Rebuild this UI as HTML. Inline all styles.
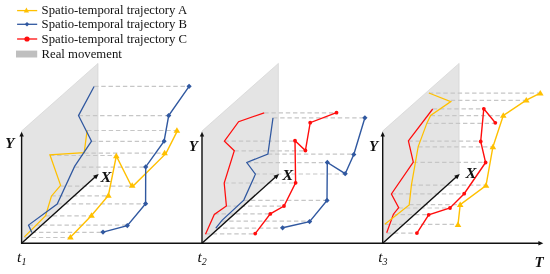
<!DOCTYPE html><html><head><meta charset="utf-8"><title>Spatio-temporal trajectories</title>
<style>html,body{margin:0;padding:0;background:#fff}svg{display:block}text{font-family:"Liberation Serif","Times New Roman",serif;fill:#111}</style></head><body>
<svg width="550" height="274" viewBox="0 0 550 274">
<rect width="550" height="274" fill="#fff"/>
<polygon points="21.6,243.2 21.6,131 98.0,63.4 98.0,174.2" fill="#D9D9D9" fill-opacity="0.72" stroke="#CFCFCF" stroke-width="0.6"/>
<polygon points="202.0,243.2 202.0,131 278.4,63.4 278.4,174.2" fill="#D9D9D9" fill-opacity="0.72" stroke="#CFCFCF" stroke-width="0.6"/>
<polygon points="382.7,243.2 382.7,131 459.1,63.4 459.1,174.2" fill="#D9D9D9" fill-opacity="0.72" stroke="#CFCFCF" stroke-width="0.6"/>
<g stroke="#C6C6C6" stroke-width="1.2" stroke-dasharray="4.4 2.8" fill="none">
<line x1="94.1" y1="86.4" x2="189.1" y2="86.4"/>
<line x1="78.5" y1="115.6" x2="168.7" y2="115.6"/>
<line x1="87.1" y1="130.5" x2="176.9" y2="130.5"/>
<line x1="91.5" y1="141.3" x2="164.1" y2="141.3"/>
<line x1="84.2" y1="153.1" x2="164.6" y2="153.1"/>
<line x1="49.9" y1="155.5" x2="116.3" y2="155.5"/>
<line x1="74.6" y1="167.1" x2="146.2" y2="167.1"/>
<line x1="60.6" y1="186.2" x2="132.2" y2="186.2"/>
<line x1="51.4" y1="195.8" x2="108.4" y2="195.8"/>
<line x1="57.2" y1="203.8" x2="146.2" y2="203.8"/>
<line x1="45.6" y1="215.9" x2="91.5" y2="215.9"/>
<line x1="28.5" y1="225.2" x2="127.3" y2="225.2"/>
<line x1="31.8" y1="232.4" x2="103.0" y2="232.4"/>
<line x1="24.4" y1="237.5" x2="70.3" y2="237.5"/>
<line x1="264.2" y1="112.8" x2="336.5" y2="112.8"/>
<line x1="273.0" y1="117.9" x2="364.9" y2="117.9"/>
<line x1="224.4" y1="141.1" x2="295.0" y2="141.1"/>
<line x1="234.3" y1="150.8" x2="305.4" y2="150.8"/>
<line x1="267.9" y1="154.2" x2="353.8" y2="154.2"/>
<line x1="246.8" y1="162.6" x2="327.3" y2="162.6"/>
<line x1="255.4" y1="174.0" x2="345.2" y2="174.0"/>
<line x1="224.2" y1="183.0" x2="295.6" y2="183.0"/>
<line x1="243.8" y1="200.3" x2="327.0" y2="200.3"/>
<line x1="226.4" y1="206.1" x2="284.0" y2="206.1"/>
<line x1="214.3" y1="213.9" x2="270.3" y2="213.9"/>
<line x1="222.0" y1="221.2" x2="309.6" y2="221.2"/>
<line x1="215.8" y1="228.1" x2="282.6" y2="228.1"/>
<line x1="205.5" y1="233.8" x2="255.2" y2="233.8"/>
<line x1="428.9" y1="93.1" x2="540.3" y2="93.1"/>
<line x1="450.8" y1="100.4" x2="526.3" y2="100.4"/>
<line x1="432.7" y1="108.8" x2="483.8" y2="108.8"/>
<line x1="430.6" y1="115.6" x2="503.3" y2="115.6"/>
<line x1="427.0" y1="123.3" x2="495.3" y2="123.3"/>
<line x1="408.4" y1="141.2" x2="480.7" y2="141.2"/>
<line x1="418.2" y1="146.8" x2="492.9" y2="146.8"/>
<line x1="413.3" y1="162.4" x2="485.6" y2="162.4"/>
<line x1="411.4" y1="185.2" x2="486.0" y2="185.2"/>
<line x1="391.4" y1="193.9" x2="464.2" y2="193.9"/>
<line x1="409.2" y1="204.6" x2="460.2" y2="204.6"/>
<line x1="398.7" y1="208.0" x2="450.0" y2="208.0"/>
<line x1="393.4" y1="214.6" x2="428.7" y2="214.6"/>
<line x1="384.8" y1="224.3" x2="458.0" y2="224.3"/>
<line x1="386.7" y1="233.2" x2="416.9" y2="233.2"/>
</g>
<polyline points="24.4,236.9 45.6,215.6 51.4,196.2 60.6,185.4 49.9,154.8 84.2,152.6 87.1,130.5" fill="none" stroke="#FFC000" stroke-width="1.25" stroke-linejoin="miter"/>
<polyline points="31.8,232.6 28.5,225.1 57.2,204.1 74.6,166.4 91.5,141.2 78.5,115.6 94.1,86.5" fill="none" stroke="#3058A0" stroke-width="1.25" stroke-linejoin="miter"/>
<polyline points="205.5,234.2 214.3,214.4 226.4,206.0 224.2,183.1 234.3,150.8 224.4,141.1 238.6,121.7 264.2,112.8" fill="none" stroke="#FF0D0D" stroke-width="1.25" stroke-linejoin="miter"/>
<polyline points="215.8,228.1 222.0,220.4 243.8,200.1 255.4,174.2 246.8,162.5 267.9,154.0 273.0,117.8" fill="none" stroke="#3058A0" stroke-width="1.25" stroke-linejoin="miter"/>
<polyline points="386.7,232.8 393.4,214.2 398.7,207.7 391.4,194.0 413.3,162.2 408.4,140.9 432.7,109.0" fill="none" stroke="#FF0D0D" stroke-width="1.25" stroke-linejoin="miter"/>
<polyline points="384.8,224.3 409.2,204.9 411.4,185.2 418.2,146.6 427.0,122.9 430.6,115.4 450.8,101.6 428.9,93.0" fill="none" stroke="#FFC000" stroke-width="1.25" stroke-linejoin="miter"/>
<line x1="21.0" y1="243.2" x2="539" y2="243.2" stroke="#111" stroke-width="1.5"/>
<polygon points="543.3,243.2 538.4,240.89999999999998 538.4,245.5" fill="#111"/>
<line x1="21.6" y1="243.79999999999998" x2="21.6" y2="136" stroke="#111" stroke-width="1.4"/>
<polygon points="21.6,131.8 19.4,136.6 23.8,136.6" fill="#111"/>
<line x1="21.6" y1="243.2" x2="95.1" y2="177.0" stroke="#111" stroke-width="1.4"/>
<polygon points="98.7,173.9 96.2,179.2 93.1,175.8" fill="#111"/>
<line x1="202.0" y1="243.79999999999998" x2="202.0" y2="136" stroke="#111" stroke-width="1.4"/>
<polygon points="202.0,131.8 199.8,136.6 204.2,136.6" fill="#111"/>
<line x1="202.0" y1="243.2" x2="275.5" y2="177.0" stroke="#111" stroke-width="1.4"/>
<polygon points="279.1,173.9 276.6,179.2 273.5,175.8" fill="#111"/>
<line x1="382.7" y1="243.79999999999998" x2="382.7" y2="136" stroke="#111" stroke-width="1.4"/>
<polygon points="382.7,131.8 380.5,136.6 384.9,136.6" fill="#111"/>
<line x1="382.7" y1="243.2" x2="456.2" y2="177.0" stroke="#111" stroke-width="1.4"/>
<polygon points="459.8,173.9 457.3,179.2 454.2,175.8" fill="#111"/>
<polyline points="70.4,237.3 91.5,215.5 108.4,195.5 116.3,156.0 131.4,186.1 133.3,185.8 166.0,153.4 177.6,130.4" fill="none" stroke="#FFC000" stroke-width="1.4"/>
<polygon points="70.4,234.1 67.1,239.6 73.7,239.6" fill="#FFC000"/>
<polygon points="91.5,212.3 88.2,217.8 94.8,217.8" fill="#FFC000"/>
<polygon points="108.4,192.3 105.1,197.8 111.7,197.8" fill="#FFC000"/>
<polygon points="116.3,152.8 113.0,158.3 119.6,158.3" fill="#FFC000"/>
<polygon points="132.2,182.3 128.9,187.8 135.5,187.8" fill="#FFC000"/>
<polygon points="164.6,149.7 161.3,155.2 167.9,155.2" fill="#FFC000"/>
<polygon points="176.9,127.2 173.6,132.7 180.2,132.7" fill="#FFC000"/>
<polyline points="103.0,232.1 127.3,225.6 145.6,203.7 145.7,166.9 164.1,141.2 168.7,115.6 189.1,86.3" fill="none" stroke="#3058A0" stroke-width="1.4"/>
<polygon points="103.0,229.5 105.6,232.1 103.0,234.7 100.4,232.1" fill="#3058A0"/>
<polygon points="127.3,223.0 129.9,225.6 127.3,228.2 124.7,225.6" fill="#3058A0"/>
<polygon points="145.6,201.1 148.2,203.7 145.6,206.3 143.0,203.7" fill="#3058A0"/>
<polygon points="145.7,164.3 148.3,166.9 145.7,169.5 143.1,166.9" fill="#3058A0"/>
<polygon points="164.1,138.6 166.7,141.2 164.1,143.8 161.5,141.2" fill="#3058A0"/>
<polygon points="168.7,113.0 171.3,115.6 168.7,118.2 166.1,115.6" fill="#3058A0"/>
<polygon points="189.1,83.7 191.7,86.3 189.1,88.9 186.5,86.3" fill="#3058A0"/>
<polyline points="255.2,233.6 270.3,213.9 284.0,206.0 295.6,182.8 295.0,140.7 305.4,150.5 310.2,122.7 336.5,112.7" fill="none" stroke="#FF0D0D" stroke-width="1.4"/>
<circle cx="255.2" cy="233.6" r="1.9" fill="#FF0D0D"/>
<circle cx="270.3" cy="213.9" r="1.9" fill="#FF0D0D"/>
<circle cx="284.0" cy="206.0" r="1.9" fill="#FF0D0D"/>
<circle cx="295.6" cy="182.8" r="1.9" fill="#FF0D0D"/>
<circle cx="295.0" cy="140.7" r="1.9" fill="#FF0D0D"/>
<circle cx="305.4" cy="150.5" r="1.9" fill="#FF0D0D"/>
<circle cx="310.2" cy="122.7" r="1.9" fill="#FF0D0D"/>
<circle cx="336.5" cy="112.7" r="1.9" fill="#FF0D0D"/>
<polyline points="282.6,227.8 309.6,221.6 327.0,200.4 327.3,162.4 345.2,173.7 353.8,154.5 364.9,117.8" fill="none" stroke="#3058A0" stroke-width="1.4"/>
<polygon points="282.6,225.2 285.2,227.8 282.6,230.4 280.0,227.8" fill="#3058A0"/>
<polygon points="309.6,219.0 312.2,221.6 309.6,224.2 307.0,221.6" fill="#3058A0"/>
<polygon points="327.0,197.8 329.6,200.4 327.0,203.0 324.4,200.4" fill="#3058A0"/>
<polygon points="327.3,159.8 329.9,162.4 327.3,165.0 324.7,162.4" fill="#3058A0"/>
<polygon points="345.2,171.1 347.8,173.7 345.2,176.3 342.6,173.7" fill="#3058A0"/>
<polygon points="353.8,151.9 356.4,154.5 353.8,157.1 351.2,154.5" fill="#3058A0"/>
<polygon points="364.9,115.2 367.5,117.8 364.9,120.4 362.3,117.8" fill="#3058A0"/>
<polyline points="416.9,233.1 428.7,214.8 450.0,208.0 464.2,193.7 485.6,162.5 480.7,141.5 483.8,108.8 495.3,122.8" fill="none" stroke="#FF0D0D" stroke-width="1.4"/>
<circle cx="416.9" cy="233.1" r="1.9" fill="#FF0D0D"/>
<circle cx="428.7" cy="214.8" r="1.9" fill="#FF0D0D"/>
<circle cx="450.0" cy="208.0" r="1.9" fill="#FF0D0D"/>
<circle cx="464.2" cy="193.7" r="1.9" fill="#FF0D0D"/>
<circle cx="485.6" cy="162.5" r="1.9" fill="#FF0D0D"/>
<circle cx="480.7" cy="141.5" r="1.9" fill="#FF0D0D"/>
<circle cx="483.8" cy="108.8" r="1.9" fill="#FF0D0D"/>
<circle cx="495.3" cy="122.8" r="1.9" fill="#FF0D0D"/>
<polyline points="458.0,224.6 460.2,204.6 486.0,185.5 492.9,147.0 503.3,115.5 526.3,100.2 540.3,93.2" fill="none" stroke="#FFC000" stroke-width="1.4"/>
<polygon points="458.0,221.4 454.7,226.9 461.3,226.9" fill="#FFC000"/>
<polygon points="460.2,201.4 456.9,206.9 463.5,206.9" fill="#FFC000"/>
<polygon points="486.0,182.3 482.7,187.8 489.3,187.8" fill="#FFC000"/>
<polygon points="492.9,143.8 489.6,149.3 496.2,149.3" fill="#FFC000"/>
<polygon points="503.3,112.3 500.0,117.8 506.6,117.8" fill="#FFC000"/>
<polygon points="526.3,97.0 523.0,102.5 529.6,102.5" fill="#FFC000"/>
<polygon points="540.3,90.0 537.0,95.5 543.6,95.5" fill="#FFC000"/>
<text x="5.2" y="148.1" font-weight="bold" font-style="italic" font-size="15">Y</text>
<text x="188.7" y="151.4" font-weight="bold" font-style="italic" font-size="15">Y</text>
<text x="369.0" y="151.4" font-weight="bold" font-style="italic" font-size="15">Y</text>
<text x="100.6" y="181.9" font-weight="bold" font-style="italic" font-size="15" textLength="11" lengthAdjust="spacingAndGlyphs">X</text>
<text x="282.2" y="179.5" font-weight="bold" font-style="italic" font-size="15" textLength="11" lengthAdjust="spacingAndGlyphs">X</text>
<text x="465.5" y="178.1" font-weight="bold" font-style="italic" font-size="15" textLength="11" lengthAdjust="spacingAndGlyphs">X</text>
<text x="534.5" y="267.3" font-weight="bold" font-style="italic" font-size="15">T</text>
<text x="17.1" y="261.5" font-style="italic" font-size="15.5">t<tspan font-size="10" dy="3">1</tspan></text>
<text x="197.5" y="261.5" font-style="italic" font-size="15.5">t<tspan font-size="10" dy="3">2</tspan></text>
<text x="378.2" y="261.5" font-style="italic" font-size="15.5">t<tspan font-size="10" dy="3">3</tspan></text>
<line x1="17.1" y1="10.6" x2="37.2" y2="10.6" stroke="#FFC000" stroke-width="1.3"/>
<polygon points="26.4,7.4 23.8,12.6 29.0,12.6" fill="#FFC000"/>
<text x="41.6" y="13.8" font-size="12.7" textLength="145.5" lengthAdjust="spacingAndGlyphs">Spatio-temporal trajectory A</text>
<line x1="17.1" y1="24.3" x2="37.2" y2="24.3" stroke="#3058A0" stroke-width="1.3"/>
<polygon points="27.0,22.0 29.3,24.3 27.0,26.6 24.7,24.3" fill="#3058A0"/>
<text x="41.6" y="27.7" font-size="12.7" textLength="145.5" lengthAdjust="spacingAndGlyphs">Spatio-temporal trajectory B</text>
<line x1="17.1" y1="39.0" x2="37.2" y2="39.0" stroke="#FF0D0D" stroke-width="1.3"/>
<circle cx="27.0" cy="39.0" r="2.6" fill="#FF0D0D"/>
<text x="41.6" y="42.8" font-size="12.7" textLength="145.5" lengthAdjust="spacingAndGlyphs">Spatio-temporal trajectory C</text>
<rect x="16" y="50.6" width="21.2" height="6.9" fill="#BFBFBF"/>
<text x="41.6" y="58.4" font-size="12.7" textLength="80.2" lengthAdjust="spacingAndGlyphs">Real movement</text>
</svg></body></html>
